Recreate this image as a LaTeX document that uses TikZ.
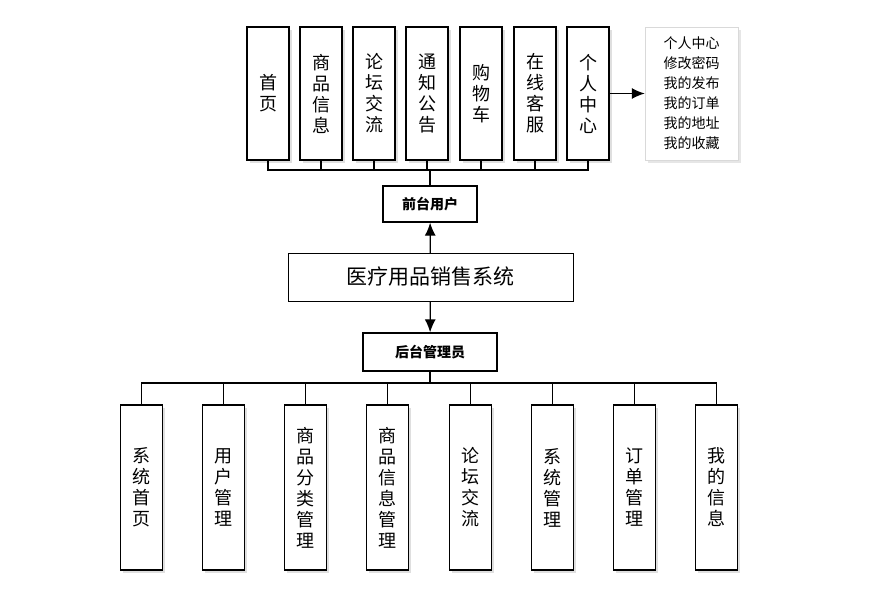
\documentclass[tikz,border=0pt]{standalone}
\usepackage{fontspec}
\setmainfont{Noto Sans CJK SC}
\usetikzlibrary{positioning,shadows,arrows.meta}

\tikzset{
  item/.style={draw, line width=1.3pt, minimum width=42pt, align=center, font=\fontsize{18}{21}\selectfont, drop shadow={opacity=0.25}, fill=white},
  head/.style={draw, line width=1.3pt, font=\bfseries\fontsize{14}{16}\selectfont, inner sep=0pt, fill=white},
  arr/.style={-{Latex[length=13pt,width=11pt]}, line width=1.3pt},
  link/.style={line width=1.3pt},
}

\begin{document}
\begin{tikzpicture}[x=1pt, y=-1pt]
    \useasboundingbox (0,0) rectangle (886,590);
    % main box
    \node[draw, minimum width=285pt, minimum height=48pt, font=\fontsize{21}{24}\selectfont] (sys) at (430.5,277) {医疗用品销售系统};
    \node[head, minimum width=94pt, minimum height=36pt] (front) at (430,204) {前台用户};
    \node[head, minimum width=134pt, minimum height=38pt] (back) at (430,352) {后台管理员};
    \draw[arr] (sys) -- (front);
    \draw[arr] (sys) -- (back);

    % front items
    \coordinate (fj) at (430,170);
    \draw[link] (front) -- (fj);
    \foreach \x/\t [count=\i] in {268/首\\页, 321/商\\品\\信\\息, 374/论\\坛\\交\\流, 427/通\\知\\公\\告, 481/购\\物\\车, 535/在\\线\\客\\服, 588/个\\人\\中\\心} {
      \node[item, minimum height=133pt] (f\i) at (\x,93.5) {\t};
      \draw[link] (f\i.south) |- (fj);
    }
    \node[draw=black!15, fill=white, drop shadow={opacity=0.2}, minimum width=93pt, minimum height=133pt, align=center, font=\fontsize{14}{20}\selectfont] (info) at (691.5,93.5) {个人中心\\修改密码\\我的发布\\我的订单\\我的地址\\我的收藏};
    \draw[arr] (f7) -- (info);

    % back items
    \coordinate (bj) at (430,383);
    \draw[link] (back) -- (bj);
    \foreach \x/\t [count=\i] in {141.5/系\\统\\首\\页, 223.5/用\\户\\管\\理, 305.5/商\\品\\分\\类\\管\\理, 387.5/商\\品\\信\\息\\管\\理, 470.5/论\\坛\\交\\流, 552.5/系\\统\\管\\理, 634.5/订\\单\\管\\理, 716.5/我\\的\\信\\息} {
      \node[item, minimum height=165pt] (b\i) at (\x,487.5) {\t};
      \draw[link] (b\i.north) |- (bj);
    }
\end{tikzpicture}
\end{document}
